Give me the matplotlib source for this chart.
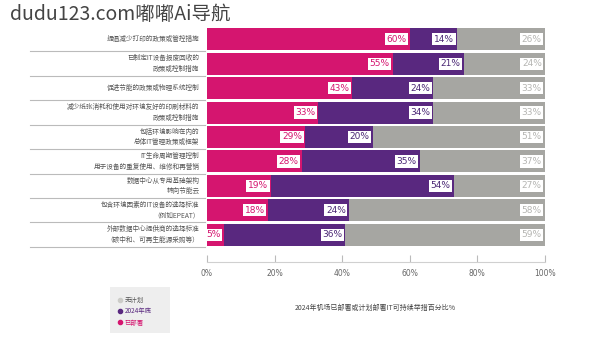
import matplotlib
matplotlib.use("Agg")
from matplotlib import pyplot as plt
from matplotlib.lines import Line2D
from matplotlib.patches import Rectangle

plt.rcParams['font.family'] = ['Noto Sans CJK SC', 'DejaVu Sans']

CATEGORIES = [
    "提倡减少打印的政策或管控措施",
    "已制定IT设备报废回收的\n政策或控制措施",
    "促进节能的政策或物理系统控制",
    "减少纸张消耗和使用对环境友好的印刷材料的\n政策或控制措施",
    "包括环境影响在内的\n总体IT管理政策或框架",
    "IT生命周期管理控制\n用于设备的重复使用、维修和再营销",
    "数据中心从专用基础架构\n转向节能云",
    "包含环境因素的IT设备的选择标准\n（例如EPEAT）",
    "外部数据中心提供商的选择标准\n（碳中和、可再生能源采购等）",
]
DEPLOYED = [60, 55, 43, 33, 29, 28, 19, 18, 5]
BY_2024 = [14, 21, 24, 34, 20, 35, 54, 24, 36]
NO_PLAN = [26, 24, 33, 33, 51, 37, 27, 58, 59]
SERIES_NAMES = ["已部署", "2024年底", "无计划"]
XTICKS = [0, 20, 40, 60, 80, 100]
TITLE = "2024年机场已部署或计划部署IT可持续举措百分比%"

MAGENTA = "#D5156F"
PURPLE = "#59287F"
GRAY = "#A6A6A2"
TEXT_COLORS = [MAGENTA, "#4A2775", "#B5B5B2"]

fig = plt.figure(figsize=(6, 3.6), dpi=100)
ax = fig.add_axes([0.345, 0.272, 0.563, 0.653])

ys = list(range(len(CATEGORIES)))
series = [DEPLOYED, BY_2024, NO_PLAN]
colors = [MAGENTA, PURPLE, GRAY]
left = [0] * len(ys)
for vals, col, tcol, name in zip(series, colors, TEXT_COLORS, SERIES_NAMES):
    ax.barh(ys, vals, left=left, height=0.9, color=col, label=name)
    for y, l, v in zip(ys, left, vals):
        ax.text(l + v - 0.9, y, f"{v}%", ha="right", va="center",
                fontsize=6.5, color=tcol, family="DejaVu Sans",
                bbox=dict(boxstyle="square,pad=0.18", fc="white", ec="none"))
    left = [a + b for a, b in zip(left, vals)]

ax.set_xlim(0, 100)
ax.set_ylim(len(ys) - 0.5 + 0.62, -0.5)
ax.set_yticks([])
ax.set_xticks(XTICKS)
ax.set_xticklabels([f"{t}%" for t in XTICKS], fontsize=5.5, color="#666666",
                   family="DejaVu Sans")
ax.tick_params(axis="x", direction="in", length=5, color="#BBBBBB", pad=5)
for s in ["top", "right", "left"]:
    ax.spines[s].set_visible(False)
ax.spines["bottom"].set_color("#D0D0D0")
ax.spines["bottom"].set_linewidth(0.8)

# category labels and separator lines on the left
ytr = ax.get_yaxis_transform()
for y, cat in zip(ys, CATEGORIES):
    ax.text(-0.022, y, cat, transform=ytr, ha="right", va="center",
            fontsize=4.8, color="#555555", linespacing=1.45)
    ax.plot([-0.524, -0.006], [y + 0.5, y + 0.5], transform=ytr,
            color="#BBBBBB", lw=0.8, clip_on=False)

# legend
fig.patches.append(Rectangle((110 / 600, 1 - 333 / 360), 60 / 600, 46 / 360,
                             transform=fig.transFigure, fc="#EEEEEE", ec="none"))
handles = [Line2D([], [], ls="", marker="o", ms=3, color=c)
           for c in ["#CCCCC8", PURPLE, MAGENTA]]
leg = fig.legend(handles, ["无计划", "2024年底", "已部署"],
                 loc="upper left", bbox_to_anchor=(114 / 600, 1 - 293 / 360),
                 frameon=False, fontsize=4.6, handletextpad=0.2,
                 handlelength=1.0, labelspacing=0.5, borderpad=0)
for txt, c in zip(leg.get_texts(), ["#555555", PURPLE, MAGENTA]):
    txt.set_color(c)

fig.text(375 / 600, 1 - 308 / 360, TITLE, ha="center", va="center",
         fontsize=5, color="#444444")

# watermark
fig.text(10 / 600, 1 - 15 / 360, "dudu123.com嘟嘟Ai导航", ha="left",
         va="center", fontsize=14, color="#444444", fontweight="medium")

fig.savefig("out.png", dpi=100)
